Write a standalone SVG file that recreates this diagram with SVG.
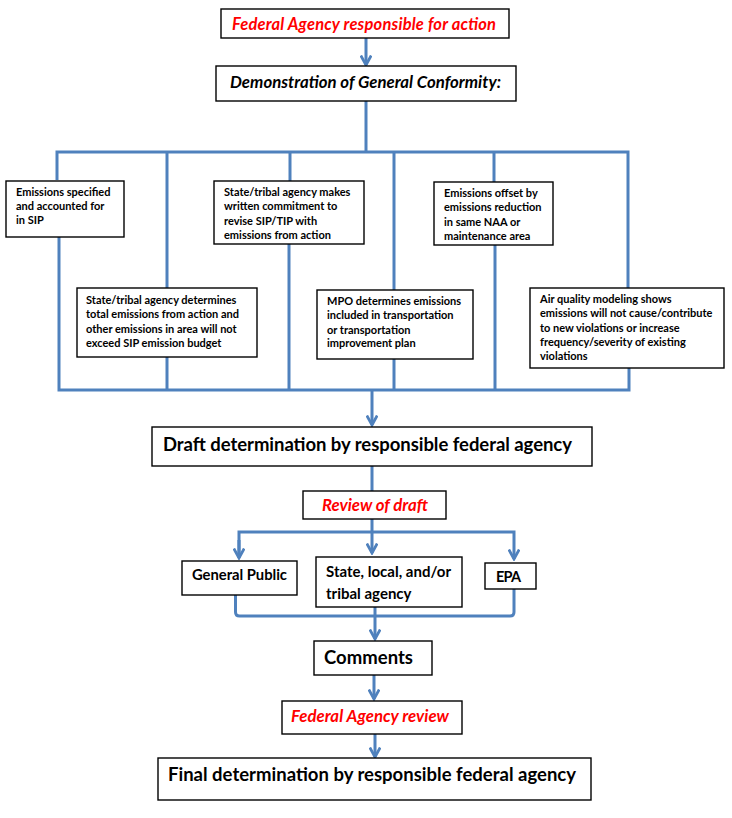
<svg xmlns="http://www.w3.org/2000/svg" width="732" height="818" viewBox="0 0 732 818">
<defs>
<style>
.box{fill:#fff;stroke:#000;stroke-width:1.4}
.t{font-family:Lato,"Liberation Sans",sans-serif;font-weight:bold;fill:#000}
.s{font-size:11px}
.r{fill:#ff0000;font-style:italic}
.i{font-style:italic}
.c{fill:none;stroke:#4f81bd;stroke-width:3}
</style>
<marker id="ah" viewBox="0 0 12 12" markerUnits="userSpaceOnUse" markerWidth="12" markerHeight="12" refX="10.5" refY="6" orient="auto">
<path d="M1,0.8 L10.5,6 L1,11.2" fill="none" stroke="#4f81bd" stroke-width="2.8"/>
</marker>
</defs>
<rect width="732" height="818" fill="#fff"/>

<g id="connectors">
<line class="c" x1="366" y1="38" x2="366" y2="65" marker-end="url(#ah)"/>
<line class="c" x1="366" y1="101" x2="366" y2="152"/>
<polyline class="c" points="57,180 57,152 628,152 628,288"/>
<line class="c" x1="167" y1="152" x2="167" y2="288"/>
<line class="c" x1="290" y1="152" x2="290" y2="181"/>
<line class="c" x1="394" y1="152" x2="394" y2="290"/>
<line class="c" x1="494" y1="152" x2="494" y2="182"/>
<polyline class="c" points="59,237 59,390 629,390 629,360"/>
<line class="c" x1="167" y1="357" x2="167" y2="390"/>
<line class="c" x1="289" y1="244" x2="289" y2="390"/>
<line class="c" x1="394" y1="359" x2="394" y2="390"/>
<line class="c" x1="495" y1="245" x2="495" y2="390"/>
<line class="c" x1="372" y1="390" x2="372" y2="425" marker-end="url(#ah)"/>
<line class="c" x1="372" y1="466" x2="372" y2="491"/>
<line class="c" x1="372" y1="519" x2="372" y2="532"/>
<polyline class="c" points="239,556 239,532 514,532 514,559" marker-end="url(#ah)"/>
<line class="c" x1="239" y1="540" x2="239" y2="558" marker-end="url(#ah)"/>
<line class="c" x1="372" y1="532" x2="372" y2="553" marker-end="url(#ah)"/>
<path class="c" d="M235.5,595 V612 Q235.5,616 239.5,616 H510 Q514,616 514,612 V589"/>
<line class="c" x1="375" y1="607" x2="375" y2="639" marker-end="url(#ah)"/>
<line class="c" x1="374" y1="675" x2="374" y2="699" marker-end="url(#ah)"/>
<line class="c" x1="375" y1="734" x2="375" y2="757" marker-end="url(#ah)"/>
</g>

<g id="n-federal-agency">
<rect class="box" x="221" y="9" width="288" height="29"/>
<text class="t r" x="232" y="29.5" font-size="16.5" textLength="264">Federal Agency responsible for action</text>
</g>

<g id="n-demonstration">
<rect class="box" x="216" y="66" width="300" height="35"/>
<text class="t i" x="230" y="88" font-size="16.8" textLength="271">Demonstration of General Conformity:</text>
</g>

<g id="n-sip">
<rect class="box" x="6" y="181" width="118" height="56"/>
<text class="t s" x="16"><tspan x="16" y="196">Emissions specified</tspan><tspan x="16" y="210">and accounted  for</tspan><tspan x="16" y="224">in SIP</tspan></text>
</g>

<g id="n-budget">
<rect class="box" x="77" y="288" width="180" height="69"/>
<text class="t s"><tspan x="86" y="304">State/tribal agency determines</tspan><tspan x="86" y="318.3">total emissions from action and</tspan><tspan x="86" y="332.7">other emissions in area will not</tspan><tspan x="86" y="347">exceed SIP emission budget</tspan></text>
</g>

<g id="n-commitment">
<rect class="box" x="214" y="181" width="150" height="63"/>
<text class="t s"><tspan x="224" y="196">State/tribal agency makes</tspan><tspan x="224" y="210">written commitment to</tspan><tspan x="224" y="225">revise SIP/TIP with</tspan><tspan x="224" y="239">emissions from action</tspan></text>
</g>

<g id="n-mpo">
<rect class="box" x="317" y="290" width="156" height="69"/>
<text class="t s"><tspan x="327" y="305">MPO determines emissions</tspan><tspan x="327" y="319">included in transportation</tspan><tspan x="327" y="334">or transportation</tspan><tspan x="327" y="347">improvement plan</tspan></text>
</g>

<g id="n-offset">
<rect class="box" x="434" y="182" width="119" height="63"/>
<text class="t s"><tspan x="444" y="197">Emissions offset by</tspan><tspan x="444" y="211">emissions reduction</tspan><tspan x="444" y="226">in same NAA or</tspan><tspan x="444" y="240">maintenance area</tspan></text>
</g>

<g id="n-modeling">
<rect class="box" x="530" y="288" width="194" height="80"/>
<text class="t s"><tspan x="540" y="303">Air quality modeling  shows</tspan><tspan x="540" y="317">emissions will not cause/contribute</tspan><tspan x="540" y="332">to new violations or increase</tspan><tspan x="540" y="346">frequency/severity of existing</tspan><tspan x="540" y="360">violations</tspan></text>
</g>

<g id="n-draft">
<rect class="box" x="152" y="427" width="440" height="39"/>
<text class="t" x="163" y="451" font-size="18.5" textLength="409">Draft determination by responsible federal agency</text>
</g>

<g id="n-review">
<rect class="box" x="303" y="491" width="143" height="28"/>
<text class="t r" x="322" y="510.5" font-size="16.8" textLength="106">Review of draft</text>
</g>

<g id="n-public">
<rect class="box" x="182" y="561" width="115" height="34"/>
<text class="t" x="192" y="580" font-size="14.8" textLength="95">General Public</text>
</g>

<g id="n-state">
<rect class="box" x="316" y="557" width="146" height="50"/>
<text class="t" font-size="15"><tspan x="326" y="577" textLength="125">State, local, and/or</tspan><tspan x="326" y="598.5">tribal agency</tspan></text>
</g>

<g id="n-epa">
<rect class="box" x="485" y="563" width="51" height="26"/>
<text class="t" x="496" y="582" font-size="14.5" textLength="25">EPA</text>
</g>

<g id="n-comments">
<rect class="box" x="314" y="641" width="118" height="34"/>
<text class="t" x="324" y="663.5" font-size="18.5" textLength="89">Comments</text>
</g>

<g id="n-fed-review">
<rect class="box" x="282" y="701" width="180" height="33"/>
<text class="t r" x="291" y="721.5" font-size="16.8" textLength="158">Federal Agency review</text>
</g>

<g id="n-final">
<rect class="box" x="158" y="758" width="433" height="42"/>
<text class="t" x="168" y="781" font-size="18.5" textLength="408">Final determination by responsible federal agency</text>
</g>
</svg>
